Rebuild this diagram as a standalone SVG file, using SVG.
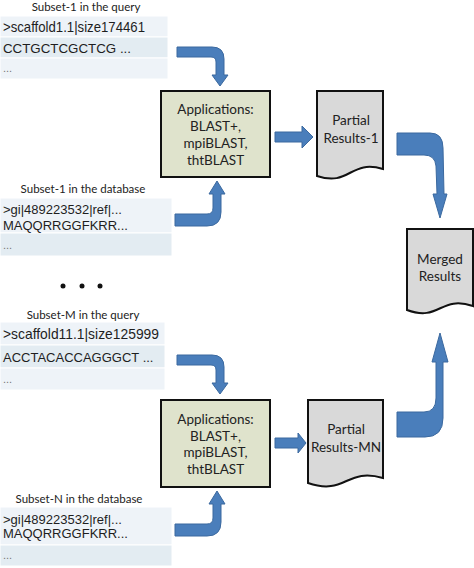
<svg xmlns="http://www.w3.org/2000/svg" width="474" height="568" viewBox="0 0 474 568">
<style>
.title{font-family:Lato,"Open Sans","Liberation Sans",sans-serif;font-size:11.5px;fill:#222;text-anchor:middle}
.cell{font-family:"Liberation Sans",Arial,sans-serif;font-size:13px;fill:#1e1e1e}
.big{font-size:14.5px}
.dots{font-family:"Liberation Sans",Arial,sans-serif;font-size:11px;fill:#777}
.rowA{fill:#eef3f8;stroke:#fff;stroke-width:1}
.rowB{fill:#e3ecf2;stroke:#fff;stroke-width:1}
.box{fill:#dfe3cc;stroke:#111;stroke-width:2}
.doc{fill:#d9d9d9;stroke:#111;stroke-width:2}
.lbl{font-family:Lato,"Open Sans","Liberation Sans",sans-serif;font-size:13.5px;fill:#222;text-anchor:middle}
.arr{fill:#4a7ebb;stroke:#3b699f;stroke-width:1}
</style>

<g id="query1">
<text class="title" x="86" y="11">Subset-1 in the query</text>
<rect class="rowA" x="0" y="16" width="168" height="21"/>
<rect class="rowB" x="0" y="37" width="168" height="21"/>
<rect class="rowA" x="0" y="58" width="168" height="21"/>
<text class="cell big" x="3" y="32" textLength="142" lengthAdjust="spacingAndGlyphs">&gt;scaffold1.1|size174461</text>
<text class="cell" x="3" y="53" textLength="128" lengthAdjust="spacingAndGlyphs">CCTGCTCGCTCG ...</text>
<text class="dots" x="3" y="72">...</text>
</g>

<g id="db1">
<text class="title" x="83" y="193">Subset-1 in the database</text>
<rect class="rowA" x="0" y="198" width="172" height="35"/>
<rect class="rowB" x="0" y="233" width="172" height="23"/>
<text class="cell" x="3" y="214">&gt;gi|489223532|ref|...</text>
<text class="cell" x="3" y="230">MAQQRRGGFKRR...</text>
<text class="dots" x="3" y="249">...</text>
</g>

<g id="ellipsis">
<circle cx="63" cy="286" r="2.5" fill="#111"/>
<circle cx="82" cy="286" r="2.5" fill="#111"/>
<circle cx="100" cy="286" r="2.5" fill="#111"/>
</g>

<g id="queryM">
<text class="title" x="83" y="319">Subset-M in the query</text>
<rect class="rowA" x="0" y="322" width="165" height="23"/>
<rect class="rowB" x="0" y="345" width="165" height="23"/>
<rect class="rowA" x="0" y="368" width="165" height="22"/>
<text class="cell big" x="3" y="339" textLength="156" lengthAdjust="spacingAndGlyphs">&gt;scaffold11.1|size125999</text>
<text class="cell" x="3" y="362">ACCTACACCAGGGCT  ...</text>
<text class="dots" x="3" y="383">...</text>
</g>

<g id="dbN">
<text class="title" x="79" y="503">Subset-N in the database</text>
<rect class="rowA" x="0" y="507" width="172" height="38"/>
<rect class="rowB" x="0" y="545" width="172" height="21"/>
<text class="cell" x="3" y="524">&gt;gi|489223532|ref|...</text>
<text class="cell" x="3" y="538">MAQQRRGGFKRR...</text>
<text class="dots" x="3" y="559">...</text>
</g>

<g id="apps1">
<rect class="box" x="161" y="91" width="109" height="86"/>
<text class="lbl" x="215.5" y="114">Applications:</text>
<text class="lbl" x="215.5" y="131">BLAST+,</text>
<text class="lbl" x="215.5" y="148">mpiBLAST,</text>
<text class="lbl" x="215.5" y="165">thtBLAST</text>
</g>

<g id="apps2">
<rect class="box" x="161" y="400" width="109" height="87"/>
<text class="lbl" x="215.5" y="424">Applications:</text>
<text class="lbl" x="215.5" y="441">BLAST+,</text>
<text class="lbl" x="215.5" y="457">mpiBLAST,</text>
<text class="lbl" x="215.5" y="474">thtBLAST</text>
</g>

<g id="partial1">
<path class="doc" d="M317,91 H383 V169 C350,159 350,187 317,176 Z"/>
<text class="lbl" x="351" y="125">Partial</text>
<text class="lbl" x="351" y="143">Results-1</text>
</g>

<g id="partialMN">
<path class="doc" d="M308,400 H383 V478 C346,467 346,496 308,483 Z"/>
<text class="lbl" x="346" y="434">Partial</text>
<text class="lbl" x="346" y="452">Results-MN</text>
</g>

<g id="merged">
<path class="doc" d="M407,229 H473 V306 C440,295 440,322 407,310 Z"/>
<text class="lbl" x="440" y="264">Merged</text>
<text class="lbl" x="440" y="281">Results</text>
</g>

<g id="connectors">
<path class="arr" d="M177,47 L212,47 Q224,47 224,59 L224,75 L228,75 L220,86 L212,75 L216,75 L216,62 Q216,57 211,57 L177,57 Z"/>
<path class="arr" transform="translate(0,308)" d="M177,47 L212,47 Q224,47 224,59 L224,75 L228,75 L220,86 L212,75 L216,75 L216,62 Q216,57 211,57 L177,57 Z"/>
<path class="arr" d="M175,214 L207,214 Q213,214 213,208 L213,194 L209,194 L217,181 L225,194 L221,194 L221,212 Q221,226 207,226 L175,226 Z"/>
<path class="arr" transform="translate(0,310)" d="M175,214 L207,214 Q213,214 213,208 L213,194 L209,194 L217,181 L225,194 L221,194 L221,212 Q221,226 207,226 L175,226 Z"/>
<path class="arr" d="M275,132 L302,132 L302,126 L313,137 L302,148 L302,142 L275,142 Z"/>
<path class="arr" d="M275,438 L298,438 L298,433 L306,443 L298,453 L298,448 L275,448 Z"/>
<path class="arr" d="M397,133 L430,133 Q443,133 443,148 L444,194 L447,194 L440,218 L433,194 L437,194 L436,166 Q435,155 424,155 L397,155 Z"/>
<path class="arr" d="M397,412 L424,412 Q436,412 436,398 L436,362 L432,362 L440,333 L448,362 L443,362 L443,418 Q443,437 425,437 L397,437 Z"/>
</g>
</svg>
